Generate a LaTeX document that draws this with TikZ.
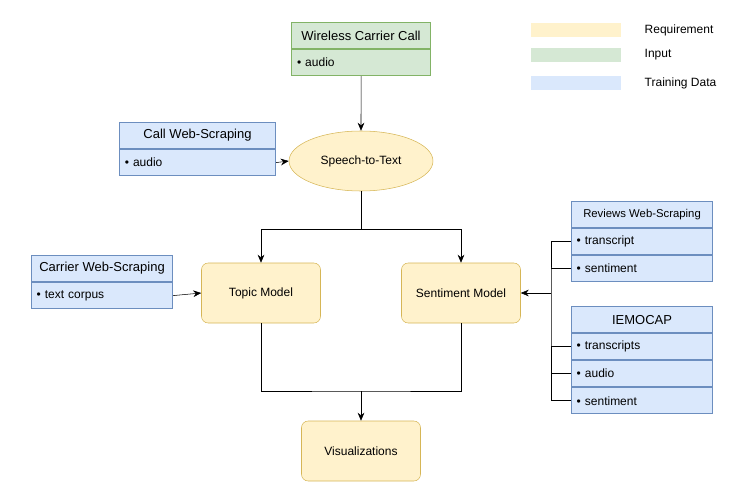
\documentclass[tikz,border=0pt]{standalone}
\usepackage{fontspec}
\setmainfont{Liberation Sans}
\usetikzlibrary{positioning,calc,shapes.geometric,arrows.meta}
\definecolor{reqfill}{HTML}{FFF2CC}\definecolor{reqline}{HTML}{D6B656}
\definecolor{infill}{HTML}{D5E8D4}\definecolor{inline}{HTML}{82B366}
\definecolor{trfill}{HTML}{DAE8FC}\definecolor{trline}{HTML}{6C8EBF}
\tikzset{
  req/.style={draw=reqline,fill=reqfill,rounded corners=5pt,minimum width=89.25pt,minimum height=45pt},
  cell/.style={draw=#1line,fill=#1fill,thick,minimum height=19.5pt,anchor=north west,inner sep=3pt},
  arr/.style={-{Stealth[length=6pt,width=5pt]}},
  leg/.style={fill=#1,minimum width=67.5pt,minimum height=10.5pt,inner sep=0pt}
}
\begin{document}
\begin{tikzpicture}[x=0.75pt,y=-0.75pt,font=\fontsize{9}{11}\selectfont]
  \useasboundingbox (0,0) rectangle (752,502);
  % legend
  \node[leg=reqfill] (l1) at (576,30) {};
  \node[leg=infill]  (l2) at (576,55) {};
  \node[leg=trfill]  (l3) at (576,83) {};
  \node[anchor=west] at (640,30) {Requirement};
  \node[anchor=west] at (640,55) {Input};
  \node[anchor=west] at (640,83) {Training Data};
  % input
  \node[cell=in,minimum width=104.25pt,font=\fontsize{9.75}{12}\selectfont] (wh) at (291,22) {Wireless Carrier Call};
  \node[cell=in,minimum width=104.25pt,anchor=north west,text width=96pt] (wa) at (wh.south west) {• audio};
  % training data
  \node[cell=tr,minimum width=117pt,font=\fontsize{9.75}{12}\selectfont] (ch) at (119,122) {Call Web-Scraping};
  \node[cell=tr,minimum width=117pt,text width=109pt] (ca) at (ch.south west) {• audio};
  \node[cell=tr,minimum width=105.75pt,font=\fontsize{9.75}{12}\selectfont] (kh) at (31,255) {Carrier Web-Scraping};
  \node[cell=tr,minimum width=105.75pt,text width=98pt] (kt) at (kh.south west) {• text corpus};
  \node[cell=tr,minimum width=105.75pt,font=\fontsize{8.5}{11}\selectfont] (rh) at (571,201) {Reviews Web-Scraping};
  \node[cell=tr,minimum width=105.75pt,text width=98pt] (rt) at (rh.south west) {• transcript};
  \node[cell=tr,minimum width=105.75pt,text width=98pt] (rs) at (rt.south west) {• sentiment};
  \node[cell=tr,minimum width=105.75pt,font=\fontsize{9.75}{12}\selectfont] (ih) at (571,306) {IEMOCAP};
  \node[cell=tr,minimum width=105.75pt,text width=98pt] (it) at (ih.south west) {• transcripts};
  \node[cell=tr,minimum width=105.75pt,text width=98pt] (ia) at (it.south west) {• audio};
  \node[cell=tr,minimum width=105.75pt,text width=98pt] (is) at (ia.south west) {• sentiment};
  % requirements
  \node[ellipse,draw=reqline,fill=reqfill,minimum width=108pt,minimum height=45pt] (stt) at (361,161) {Speech-to-Text};
  \node[req] (topic) at (261,293) {Topic Model};
  \node[req] (sent) at (461,293) {Sentiment Model};
  \node[req] (vis) at (361,451) {Visualizations};
  % connectors
  \draw[arr] (wa.south) -- (stt.north);
  \draw[arr] (ca.east) -- (stt.west);
  \coordinate (split) at (361,229);
  \draw (stt.south) -- (split);
  \draw[arr] (split) -| (topic.north);
  \draw[arr] (split) -| (sent.north);
  \draw[arr] (kt.east) -- (topic.west);
  \coordinate (bus) at (551,293);
  \draw (rt.west) -| (bus) |- (is.west);
  \foreach \r in {rs,it,ia} \draw (\r.west) -- (\r.west -| bus);
  \draw[arr] (bus) -- (sent.east);
  \coordinate (join) at (361,391);
  \draw (topic.south) |- (join) -| (sent.south);
  \draw[arr] (join) -- (vis.north);
\end{tikzpicture}
\end{document}
